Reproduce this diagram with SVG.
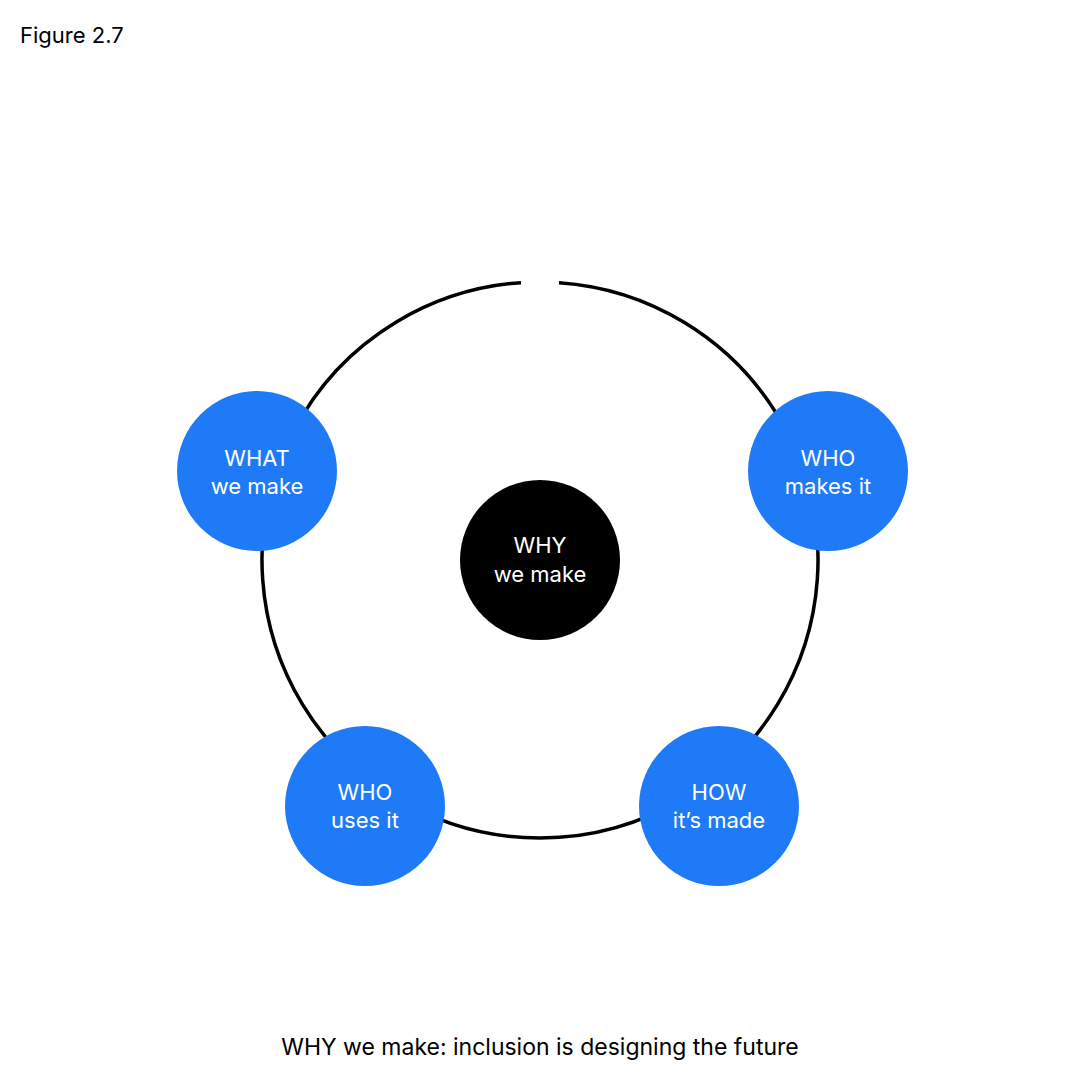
<svg xmlns="http://www.w3.org/2000/svg" width="1080" height="1080" viewBox="0 0 1080 1080">
<style>
text{font-family:Inter,"Liberation Sans",sans-serif;font-size:22px;text-anchor:middle}
.w{fill:#fff}
.b{fill:#1F7AF8}
</style>
<rect width="1080" height="1080" fill="#fff"/>
<text x="20" y="43" style="text-anchor:start">Figure 2.7</text>
<g id="connectors">
<path d="M 559 282.65 A 278 278 0 1 1 521 282.65" fill="none" stroke="#000" stroke-width="3.5"/>
</g>
<g id="what"><circle class="b" cx="257" cy="471" r="80"/><text class="w" x="257" y="466">WHAT</text><text class="w" x="257" y="494">we make</text></g>
<g id="whomakes"><circle class="b" cx="828" cy="471" r="80"/><text class="w" x="828" y="466">WHO</text><text class="w" x="828" y="494">makes it</text></g>
<g id="whouses"><circle class="b" cx="365" cy="806" r="80"/><text class="w" x="365" y="800">WHO</text><text class="w" x="365" y="828">uses it</text></g>
<g id="how"><circle class="b" cx="719" cy="806" r="80"/><text class="w" x="719" y="800">HOW</text><text class="w" x="719" y="828">it’s made</text></g>
<g id="why"><circle fill="#000" cx="540" cy="560" r="80"/><text class="w" x="540" y="553">WHY</text><text class="w" x="540" y="582">we make</text></g>
<text x="540" y="1055" style="font-size:23px">WHY we make:  inclusion is designing the future</text>
</svg>
